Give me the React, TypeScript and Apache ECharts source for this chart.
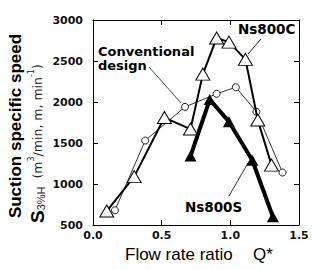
import React, { useEffect, useRef } from "react";
import * as echarts from "echarts";

// Flow rate ratio Q* (x) and suction specific speed S3%H (y)
const convX = [0.16, 0.38, 0.67, 0.9, 1.04, 1.19, 1.38];
const convY = [680, 1530, 1940, 2100, 2180, 1880, 1140];

const cX = [0.1, 0.3, 0.52, 0.71, 0.8, 0.9, 0.99, 1.11, 1.2, 1.3];
const cY = [670, 1090, 1810, 1670, 2340, 2780, 2730, 2520, 1780, 1230];

const sX = [0.71, 0.85, 0.99, 1.16, 1.31];
const sY = [1340, 2030, 1760, 1290, 600];

const xTicks = { min: 0, max: 1.5, interval: 0.5 };
const yTicks = { min: 500, max: 3000, interval: 500 };

const zip = (xs: number[], ys: number[]) => xs.map((x, i) => [x, ys[i]]);

const SANS = '"Liberation Sans", Arial, sans-serif';
const DV = '"DejaVu Sans", sans-serif';

export default function App() {
  const ref = useRef<HTMLDivElement>(null);
  useEffect(() => {
    document.body.style.margin = "0";
    const chart = echarts.init(ref.current!, null, { renderer: "svg" });
    const axisLine = { show: true, onZero: false, lineStyle: { color: "#000", width: 1 } };
    const axisTick = { show: true, inside: true, length: 5, lineStyle: { color: "#000", width: 1 } };
    const label = { fontFamily: DV, fontWeight: "bold", fontSize: 11, color: "#111" };
    chart.setOption({
      animation: false,
      backgroundColor: "#fff",
      grid: { left: 93, top: 20, width: 206, height: 205, containLabel: false },
      xAxis: [
        {
          type: "value", ...xTicks, position: "bottom", axisLine, axisTick,
          axisLabel: { ...label, margin: 5, formatter: (v: number) => v.toFixed(1) },
          splitLine: { show: false },
        },
        {
          type: "value", ...xTicks, position: "top", axisLine, axisTick,
          axisLabel: { show: false }, splitLine: { show: false },
        },
      ],
      yAxis: [
        {
          type: "value", ...yTicks, position: "left", axisLine, axisTick,
          axisLabel: { ...label, margin: 10, formatter: (v: number) => String(v) },
          splitLine: { show: false },
        },
        {
          type: "value", ...yTicks, position: "right", axisLine, axisTick,
          axisLabel: { show: false }, splitLine: { show: false },
        },
      ],
      series: [
        {
          type: "line", name: "Conventional design", data: zip(convX, convY),
          symbol: "circle", symbolSize: 7, showAllSymbol: true,
          lineStyle: { color: "#333", width: 1 },
          itemStyle: { color: "#fff", borderColor: "#222", borderWidth: 1 },
          z: 2,
        },
        {
          type: "line", name: "Ns800C", data: zip(cX, cY),
          symbol: "triangle", symbolSize: [14, 12], showAllSymbol: true,
          lineStyle: { color: "#000", width: 2 },
          itemStyle: { color: "#fff", borderColor: "#000", borderWidth: 1 },
          z: 3,
        },
        {
          type: "line", name: "Ns800S", data: zip(sX, sY),
          symbol: "triangle", symbolSize: [12, 11], showAllSymbol: true,
          lineStyle: { color: "#000", width: 4 },
          itemStyle: { color: "#000", borderColor: "#000", borderWidth: 0 },
          z: 4,
        },
      ],
      graphic: [
        {
          type: "text", x: 98, y: 51,
          style: { text: "Conventional", fontFamily: DV, fontWeight: "bold", fontSize: 13, fill: "#000", verticalAlign: "middle" },
        },
        {
          type: "text", x: 98, y: 65,
          style: { text: "design", fontFamily: DV, fontWeight: "bold", fontSize: 13, fill: "#000", verticalAlign: "middle" },
        },
        { type: "line", shape: { x1: 149, y1: 67, x2: 181, y2: 103 }, style: { stroke: "#444", lineWidth: 1 } },
        {
          type: "text", x: 238, y: 29,
          style: { text: "Ns800C", fontFamily: DV, fontWeight: "bold", fontSize: 13.5, fill: "#000", verticalAlign: "middle" },
        },
        { type: "line", shape: { x1: 261, y1: 39, x2: 248, y2: 54 }, style: { stroke: "#222", lineWidth: 1 } },
        {
          type: "text", x: 185, y: 207,
          style: { text: "Ns800S", fontFamily: DV, fontWeight: "bold", fontSize: 13.5, fill: "#000", verticalAlign: "middle" },
        },
        { type: "line", shape: { x1: 229, y1: 196, x2: 248, y2: 163 }, style: { stroke: "#333", lineWidth: 1 } },
        {
          type: "text", x: 15, y: 126, rotation: Math.PI / 2,
          style: { text: "Suction specific speed", fontFamily: SANS, fontWeight: "bold", fontSize: 17, fill: "#000", align: "center", verticalAlign: "middle" },
        },
        {
          type: "text", x: 37, y: 223, rotation: Math.PI / 2,
          style: {
            text: "{S|S}{sub|3%H}{n|  (m}{sup|3}{n|/min, m, min}{sup|-1}{n|)}",
            align: "left", verticalAlign: "middle", fill: "#000",
            rich: {
              S: { fontFamily: SANS, fontWeight: "bold", fontSize: 19, lineHeight: 19, verticalAlign: "bottom", fill: "#000" },
              sub: { fontFamily: SANS, fontSize: 11, lineHeight: 12, verticalAlign: "bottom", fill: "#222" },
              n: { fontFamily: DV, fontSize: 12.5, lineHeight: 14, verticalAlign: "middle", fill: "#222" },
              sup: { fontFamily: DV, fontSize: 8, lineHeight: 9, verticalAlign: "top", fill: "#222" },
            },
          },
        },
        {
          type: "text", x: 125, y: 254,
          style: { text: "Flow rate ratio", fontFamily: SANS, fontSize: 17, fill: "#000", verticalAlign: "middle" },
        },
        {
          type: "text", x: 253, y: 254,
          style: { text: "Q*", fontFamily: SANS, fontSize: 17, fill: "#000", verticalAlign: "middle" },
        },
      ],
    });
    return () => chart.dispose();
  }, []);
  return <div ref={ref} style={{ width: 332, height: 270, background: "#fff" }} />;
}
